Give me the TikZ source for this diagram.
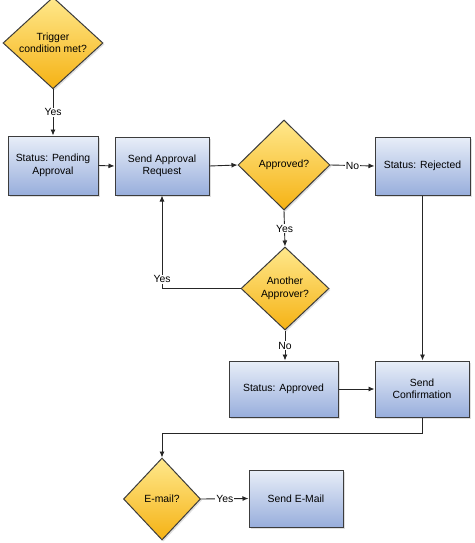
\documentclass[tikz,border=0pt]{standalone}
\usepackage{fontspec}
\setmainfont{Liberation Sans}
\usetikzlibrary{shapes.geometric,arrows.meta,positioning,shadows}

\definecolor{boxtop}{RGB}{232,238,248}
\definecolor{boxbot}{RGB}{152,174,220}
\definecolor{dectop}{RGB}{255,232,140}
\definecolor{decbot}{RGB}{245,178,20}
\definecolor{edge}{RGB}{60,60,60}

\begin{document}
\begin{tikzpicture}[x=1pt, y=-1pt, font=\fontsize{10.4}{12.4}\selectfont,
    state/.style={draw=edge, line width=1pt, rectangle, top color=boxtop, bottom color=boxbot,
        align=center, drop shadow={opacity=0.25, shadow xshift=1.5pt, shadow yshift=-1.5pt}},
    decision/.style={draw=edge, line width=1pt, diamond, top color=dectop, bottom color=decbot,
        align=center, inner sep=1pt, drop shadow={opacity=0.25, shadow xshift=1.5pt, shadow yshift=-1.5pt}},
    flow/.style={line width=0.9pt, draw=black!85, -{Latex[length=6pt,width=5pt]}},
    tag/.style={fill=white, inner sep=1pt}]
        \useasboundingbox (0,0) rectangle (474,543);

        % Start
        \node[decision, minimum width=100pt, minimum height=85pt] at (53,43) (trigger) {Trigger\\condition met?};

        % Approval request
        \node[state, minimum width=90pt, minimum height=59pt] at (53,165.5) (pending) {Status: Pending\\Approval};
        \node[state, minimum width=94pt, minimum height=58pt] at (162,166) (request) {Send Approval\\Request};
        \node[decision, minimum width=92pt, minimum height=90pt] at (284,165) (approved) {Approved?};
        \node[state, minimum width=95pt, minimum height=58pt] at (422.5,166) (rejected) {Status: Rejected};

        % Next approver
        \node[decision, minimum width=88pt, minimum height=83pt] at (285,288.5) (another) {Another\\Approver?};

        % Confirmation
        \node[state, minimum width=109pt, minimum height=56pt] at (283.5,389) (statapp) {Status: Approved};
        \node[state, minimum width=94pt, minimum height=56pt] at (422,389) (confirm) {Send\\Confirmation};

        % E-mail
        \node[decision, minimum width=77pt, minimum height=82pt] at (162,499) (email) {E-mail?};
        \node[state, minimum width=94pt, minimum height=57pt] at (296,498.5) (sendmail) {Send E-Mail};

        % Connectors
        \draw[flow] (trigger.south) -- node[tag] {Yes} (pending.north);
        \draw[flow] (pending.east) -- (request.west);
        \draw[flow] (request.east) -- (approved.west);
        \draw[flow] (approved.east) -- node[tag] {No} (rejected.west);
        \draw[flow] (approved.south) -- node[tag] {Yes} (another.north);
        \draw[flow] (another.west) -| node[tag, pos=0.55] {Yes} (request.south);
        \draw[flow] (another.south) -- node[tag] {No} (another.south |- statapp.north);
        \draw[flow] (rejected.south) -- (rejected.south |- confirm.north);
        \draw[flow] (statapp.east) -- (confirm.west);
        \draw[flow] (confirm.south) -- ++(0,16) -| (email.north);
        \draw[flow] (email.east) -- node[tag] {Yes} (sendmail.west);
    \end{tikzpicture}
\end{document}
